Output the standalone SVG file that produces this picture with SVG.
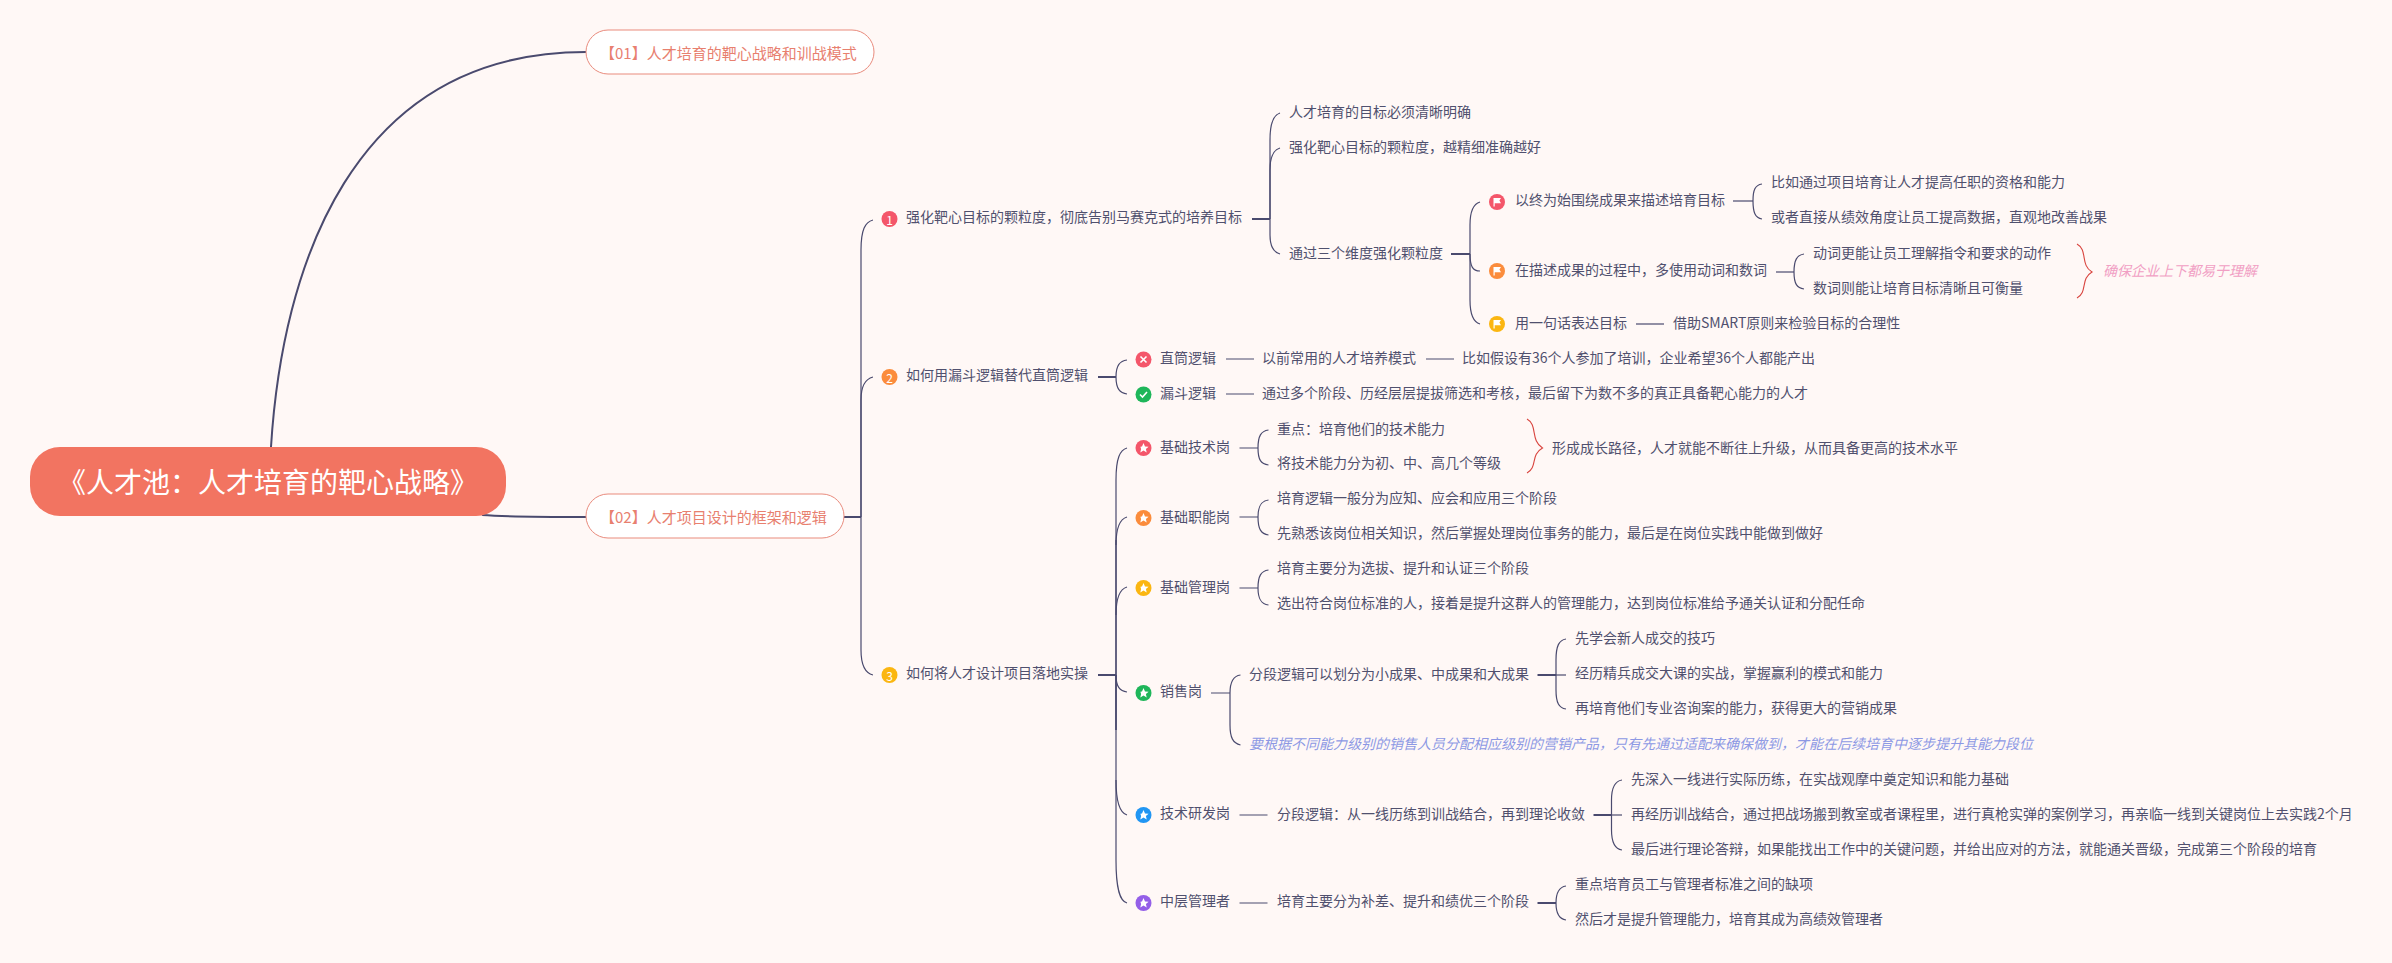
<svg xmlns="http://www.w3.org/2000/svg" width="2392" height="963" viewBox="0 0 2392 963">
<style>
text{font-family:"Noto Sans CJK SC","Liberation Sans",sans-serif;font-size:14px;fill:#50506e;dominant-baseline:central}
.c{fill:none;stroke:#4a4a6e;stroke-width:1.2}
.m{fill:none;stroke:#4a4a6e;stroke-width:2}
.r{fill:none;stroke:#d9453f;stroke-width:1.1}
.box{fill:#fff;stroke:#e98b7d;stroke-width:1}
.bt{font-size:15px;fill:#e8806f}
.i{font-style:italic}
.n{fill:#fff;font-size:12px;text-anchor:middle}
.ic{fill:none;stroke:#fff;stroke-width:1.6}
</style>
<defs>
<path id="star" d="M0-5 1.500-1.600 5.100-1.300 2.400 1 3.200 4.500 0 2.600-3.200 4.500-2.400 1-3.100-1.300-1.500-1.600Z" fill="#fff"/>
<path id="flag" d="M-3.500-4V4.500H-2.300V1.200H4L2.400-1.400 4-4Z" fill="#fff"/>
</defs>
<rect width="2392" height="963" fill="#fff8f6"/>
<g id="connectors">
<path class="m" d="M271 447C282 270 350 52 586 52"/>
<path class="m" d="M482 515C510 517 550 517 586 517"/>
<path class="m" d="M844 517H861"/>
<path class="c" d="M873 220C865 222 861 230 861 250V517"/>
<path class="c" d="M873 377C865 379 861 387 861 400V517"/>
<path class="c" d="M873 675C865 673 861 665 861 650V517"/>
<path class="m" d="M1252 219H1270"/>
<path class="c" d="M1280 113C1273 115 1270 125 1270 140V219"/>
<path class="c" d="M1280 148C1273 150 1270 158 1270 170V219"/>
<path class="c" d="M1280 254C1273 252 1270 245 1270 235V219"/>
<path class="m" d="M1451 254H1470"/>
<path class="c" d="M1480 202C1473 204 1470 212 1470 225V254"/>
<path class="c" d="M1480 271C1473 271 1470 267 1470 254"/>
<path class="c" d="M1480 324C1473 322 1470 314 1470 300V254"/>
<path class="c" d="M1733 201H1753"/>
<path class="c" d="M1762 184C1755 185 1753 190 1753 201C1753 212 1755 218 1762 219"/>
<path class="c" d="M1776 272H1794"/>
<path class="c" d="M1804 254C1797 255 1794 260 1794 272C1794 284 1797 288 1804 289"/>
<path class="c" d="M1636 324H1664"/>
<path class="m" d="M1098 377H1116"/>
<path class="c" d="M1127 360C1120 361 1116 365 1116 377C1116 389 1120 393 1127 394"/>
<path class="c" d="M1226 359H1254M1426 359H1454M1226 394H1254"/>
<path class="m" d="M1098 675H1116"/>
<path class="m" d="M1116 540V730" style="stroke-width:1.700"/>
<path class="c" d="M1127 448C1120 450 1116 458 1116 480V540"/>
<path class="c" d="M1127 517C1120 519 1116 528 1116 545"/>
<path class="c" d="M1127 587C1120 589 1116 598 1116 615"/>
<path class="c" d="M1127 692C1120 691 1116 687 1116 675"/>
<path class="c" d="M1127 815C1120 813 1116 803 1116 780V675"/>
<path class="c" d="M1127 903C1120 901 1116 890 1116 860V780"/>
<path class="c" d="M1239.500 448H1258M1239.500 517H1258M1239.500 588H1258M1211 693H1230"/>
<path class="c" d="M1268.500 430C1261 431 1258 436 1258 448C1258 460 1261 464 1268.500 465"/>
<path class="c" d="M1268.500 500C1261 501 1258 506 1258 517C1258 529 1261 534 1268.500 535"/>
<path class="c" d="M1268.500 570C1261 571 1258 576 1258 588C1258 599 1261 604 1268.500 605"/>
<path class="c" d="M1240.500 675C1233 676 1230 682 1230 693V725C1230 738 1233 743 1240.500 745"/>
<path class="m" d="M1537.500 675H1556"/>
<path class="c" d="M1566 639C1559 640 1556 646 1556 660V690C1556 703 1559 708 1566 709"/>
<path class="c" d="M1556 675H1566"/>
<path class="c" d="M1239.500 815H1267.500M1239.500 903H1267.500"/>
<path class="m" d="M1593.500 815H1611.500"/>
<path class="c" d="M1622 780C1615 781 1611.500 787 1611.500 800V830C1611.500 843 1615 849 1622 850"/>
<path class="c" d="M1611.500 815H1622"/>
<path class="m" d="M1537.500 903H1556"/>
<path class="c" d="M1566 886C1559 887 1556 892 1556 903C1556 914 1559 919 1566 920"/>
<path class="r" d="M2077 244C2088 250 2080 265 2092 272C2080 279 2088 292 2077 298"/>
<path class="r" d="M1527 419C1538 425 1530 440 1542.500 448C1530 455 1538 467 1527 473"/>
</g>
<g id="root"><rect x="30" y="447" width="476" height="69" rx="30" fill="#f27461"/><text x="268" y="481" text-anchor="middle" style="font-size:28px;fill:#fff">《人才池：人才培育的靶心战略》</text></g>
<g id="t01"><rect class="box" x="586" y="30" width="288" height="44" rx="22"/><text class="bt" x="600" y="52">【01】人才培育的靶心战略和训战模式</text></g>
<g id="t02"><rect class="box" x="586" y="494" width="258" height="44" rx="22"/><text class="bt" x="600" y="516">【02】人才项目设计的框架和逻辑</text></g>
<g id="n1"><circle cx="889.500" cy="219" r="8" fill="#f4566a"/><text class="n" x="889.500" y="219">1</text><text x="906" y="216">强化靶心目标的颗粒度，彻底告别马赛克式的培养目标</text></g>
<g id="n2"><circle cx="889.500" cy="377" r="8" fill="#fb8c3c"/><text class="n" x="889.500" y="377">2</text><text x="906" y="374">如何用漏斗逻辑替代直筒逻辑</text></g>
<g id="n3"><circle cx="889.500" cy="675" r="8" fill="#fbb611"/><text class="n" x="889.500" y="675">3</text><text x="906" y="672">如何将人才设计项目落地实操</text></g>
<g id="n11"><text x="1289" y="111">人才培育的目标必须清晰明确</text></g>
<g id="n12"><text x="1289" y="146">强化靶心目标的颗粒度，越精细准确越好</text></g>
<g id="n13"><text x="1289" y="252">通过三个维度强化颗粒度</text></g>
<g id="n131"><circle cx="1497" cy="202" r="8" fill="#f4566a"/><use href="#flag" x="1497" y="202"/><text x="1515" y="199">以终为始围绕成果来描述培育目标</text></g>
<g id="n1311"><text x="1771" y="181">比如通过项目培育让人才提高任职的资格和能力</text></g>
<g id="n1312"><text x="1771" y="216">或者直接从绩效角度让员工提高数据，直观地改善战果</text></g>
<g id="n132"><circle cx="1497" cy="271" r="8" fill="#fb8c3c"/><use href="#flag" x="1497" y="271"/><text x="1515" y="269">在描述成果的过程中，多使用动词和数词</text></g>
<g id="n1321"><text x="1813" y="252">动词更能让员工理解指令和要求的动作</text></g>
<g id="n1322"><text x="1813" y="287">数词则能让培育目标清晰且可衡量</text></g>
<g id="s1"><text class="i" x="2103" y="270" style="fill:#f19fc4">确保企业上下都易于理解</text></g>
<g id="n133"><circle cx="1497" cy="324" r="8" fill="#fbb611"/><use href="#flag" x="1497" y="324"/><text x="1515" y="322">用一句话表达目标</text></g>
<g id="n1331"><text x="1673" y="322">借助SMART原则来检验目标的合理性</text></g>
<g id="n21"><circle cx="1143.500" cy="359.500" r="8" fill="#f4566a"/><path class="ic" d="M-3-3 3 3M3-3-3 3" transform="translate(1143.500 359.500)"/><text x="1160" y="357">直筒逻辑</text></g>
<g id="n211"><text x="1262" y="357">以前常用的人才培养模式</text></g>
<g id="n212"><text x="1462" y="357">比如假设有36个人参加了培训，企业希望36个人都能产出</text></g>
<g id="n22"><circle cx="1143.500" cy="394.500" r="8" fill="#1fb65a"/><path class="ic" d="M-3.500 0-1 2.500 3.500-2.500" transform="translate(1143.500 394.500)"/><text x="1160" y="392">漏斗逻辑</text></g>
<g id="n221"><text x="1262" y="392">通过多个阶段、历经层层提拔筛选和考核，最后留下为数不多的真正具备靶心能力的人才</text></g>
<g id="n31"><circle cx="1143.500" cy="448" r="8" fill="#f4566a"/><use href="#star" x="1143.500" y="448"/><text x="1160" y="446">基础技术岗</text></g>
<g id="n311"><text x="1277" y="428">重点：培育他们的技术能力</text></g>
<g id="n312"><text x="1277" y="462">将技术能力分为初、中、高几个等级</text></g>
<g id="s2"><text x="1552" y="447">形成成长路径，人才就能不断往上升级，从而具备更高的技术水平</text></g>
<g id="n32"><circle cx="1143.500" cy="518" r="8" fill="#fb8c3c"/><use href="#star" x="1143.500" y="518"/><text x="1160" y="516">基础职能岗</text></g>
<g id="n321"><text x="1277" y="497">培育逻辑一般分为应知、应会和应用三个阶段</text></g>
<g id="n322"><text x="1277" y="532">先熟悉该岗位相关知识，然后掌握处理岗位事务的能力，最后是在岗位实践中能做到做好</text></g>
<g id="n33"><circle cx="1143.500" cy="588" r="8" fill="#fbb611"/><use href="#star" x="1143.500" y="588"/><text x="1160" y="586">基础管理岗</text></g>
<g id="n331"><text x="1277" y="567">培育主要分为选拔、提升和认证三个阶段</text></g>
<g id="n332"><text x="1277" y="602">选出符合岗位标准的人，接着是提升这群人的管理能力，达到岗位标准给予通关认证和分配任命</text></g>
<g id="n34"><circle cx="1143.500" cy="693" r="8" fill="#1fb65a"/><use href="#star" x="1143.500" y="693"/><text x="1160" y="690">销售岗</text></g>
<g id="n341"><text x="1249" y="673">分段逻辑可以划分为小成果、中成果和大成果</text></g>
<g id="n3411"><text x="1575" y="637">先学会新人成交的技巧</text></g>
<g id="n3412"><text x="1575" y="672">经历精兵成交大课的实战，掌握赢利的模式和能力</text></g>
<g id="n3413"><text x="1575" y="707">再培育他们专业咨询案的能力，获得更大的营销成果</text></g>
<g id="n342"><text class="i" x="1249" y="743" style="fill:#8d98e4">要根据不同能力级别的销售人员分配相应级别的营销产品，只有先通过适配来确保做到，才能在后续培育中逐步提升其能力段位</text></g>
<g id="n35"><circle cx="1143.500" cy="815" r="8" fill="#2196f3"/><use href="#star" x="1143.500" y="815"/><text x="1160" y="812">技术研发岗</text></g>
<g id="n351"><text x="1277" y="813">分段逻辑：从一线历练到训战结合，再到理论收敛</text></g>
<g id="n3511"><text x="1631" y="778">先深入一线进行实际历练，在实战观摩中奠定知识和能力基础</text></g>
<g id="n3512"><text x="1631" y="813">再经历训战结合，通过把战场搬到教室或者课程里，进行真枪实弹的案例学习，再亲临一线到关键岗位上去实践2个月</text></g>
<g id="n3513"><text x="1631" y="848">最后进行理论答辩，如果能找出工作中的关键问题，并给出应对的方法，就能通关晋级，完成第三个阶段的培育</text></g>
<g id="n36"><circle cx="1143.500" cy="903" r="8" fill="#945fe8"/><use href="#star" x="1143.500" y="903"/><text x="1160" y="900">中层管理者</text></g>
<g id="n361"><text x="1277" y="900">培育主要分为补差、提升和绩优三个阶段</text></g>
<g id="n3611"><text x="1575" y="883">重点培育员工与管理者标准之间的缺项</text></g>
<g id="n3612"><text x="1575" y="918">然后才是提升管理能力，培育其成为高绩效管理者</text></g>
</svg>
